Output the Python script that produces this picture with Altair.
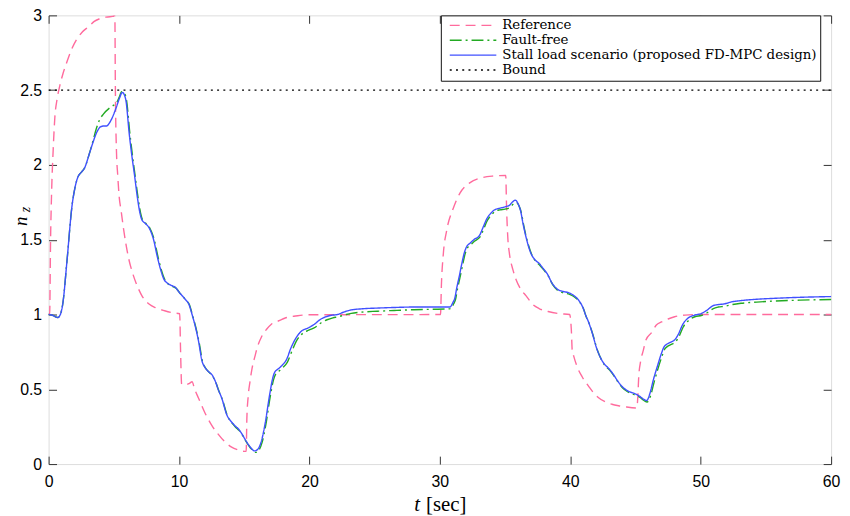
import altair as alt
import pandas as pd

# ---------------- data ----------------
ref_t = [0, 0.08, 0.15, 0.23, 0.35, 0.48, 0.65, 0.86, 1.1, 1.37, 1.7, 2.13, 2.6, 3.14, 3.5, 3.9, 4.4, 4.91, 5.08,
         5.12, 5.2, 5.3, 5.42, 5.55, 5.75, 5.93, 6.15, 6.43, 6.8, 7.19, 7.7, 8.21, 8.9, 9.5, 10.05,
         10.12, 10.2, 10.5, 10.8, 11.0, 11.2, 11.5, 12.0, 12.5, 13.0, 13.5, 14.0, 14.5, 15.05, 15.15,
         15.2, 15.3, 15.44, 15.6, 15.82, 16.0, 16.32, 16.7, 17.08, 17.72, 18.1, 19.1, 20.0, 30.05,
         30.12, 30.27, 30.52, 31.03, 31.53, 32.29, 33.3, 34.1, 35.05,
         35.12, 35.22, 35.33, 35.6, 35.84, 36.2, 36.6, 37.1, 37.61, 38.3, 39.13, 39.95,
         40.08, 40.15, 40.27, 40.53, 40.91, 41.41, 41.8, 42.17, 42.7, 43.19, 43.7, 44.2, 45.1,
         45.18, 45.25, 45.4, 45.6, 45.8, 46.24, 46.6, 47.0, 47.5, 48.0, 48.8, 50.0, 60.0]
ref_v = [1.0, 1.0, 1.5, 1.82, 2.1, 2.32, 2.44, 2.53, 2.61, 2.68, 2.76, 2.836, 2.89, 2.93, 2.96, 2.977, 2.988, 2.993, 2.995,
         2.5, 2.1, 1.93, 1.78, 1.70, 1.57, 1.47, 1.37, 1.28, 1.19, 1.12, 1.07, 1.045, 1.025, 1.012, 1.005,
         0.75, 0.535, 0.53, 0.54, 0.55, 0.50, 0.44, 0.34, 0.26, 0.20, 0.15, 0.115, 0.095, 0.085, 0.085,
         0.30, 0.45, 0.55, 0.64, 0.72, 0.78, 0.85, 0.90, 0.935, 0.96, 0.975, 0.992, 0.998, 1.0,
         1.2, 1.41, 1.56, 1.71, 1.81, 1.88, 1.916, 1.926, 1.93,
         1.7, 1.5, 1.41, 1.30, 1.234, 1.17, 1.126, 1.07, 1.04, 1.02, 1.006, 1.0,
         0.9, 0.76, 0.72, 0.65, 0.584, 0.52, 0.475, 0.444, 0.415, 0.40, 0.39, 0.383, 0.375,
         0.45, 0.584, 0.69, 0.76, 0.83, 0.88, 0.93, 0.95, 0.97, 0.985, 0.996, 1.0, 1.0]

ff_t = [0, 0.3, 0.7, 0.9, 1.1, 1.4, 1.8, 2.05, 2.25, 2.5, 2.76, 3.14, 3.4, 3.65, 3.9, 4.2, 4.66, 5.0, 5.17, 5.4,
        5.6, 5.8, 5.98, 6.22, 6.45, 6.6, 6.87, 7.05, 7.2, 7.45, 7.75, 8.13, 8.35, 8.64, 8.9, 9.15, 9.45, 9.78,
        10.05, 10.35, 10.55, 10.8, 11.05, 11.3, 11.55, 11.8, 12.05, 12.35, 12.55, 12.85, 13.05, 13.33, 13.7,
        14.1, 14.35, 14.6, 14.85, 15.15, 15.55, 15.85, 16.1, 16.37, 16.65, 17.0, 17.25, 17.4, 17.65, 17.95,
        18.3, 18.7, 19.05, 19.5, 19.95, 20.45, 20.9, 21.35, 21.8, 22.2, 22.7, 23.2, 24.0, 25.2, 26.5, 28.0,
        29.5, 30.5, 30.85, 31.05, 31.2, 31.35, 31.55, 31.72, 31.95, 32.15, 32.35, 32.65, 33.1, 33.35, 33.65,
        34.0, 34.25, 34.6, 35.0, 35.35, 35.65, 35.85, 36.05, 36.25, 36.4, 36.65, 37.05, 37.35, 37.66, 37.95,
        38.3, 38.65, 39.05, 39.45, 39.95, 40.35, 40.7, 41.05, 41.2, 41.45, 41.72, 42.05, 42.35, 42.65, 43.0,
        43.35, 43.65, 44.0, 44.45, 45.0, 45.35, 45.65, 45.9, 46.15, 46.42, 46.75, 47.05, 47.25, 47.43, 47.75,
        48.05, 48.35, 48.65, 49.07, 49.55, 50.1, 50.55, 50.97, 51.35, 51.85, 52.45, 53.1, 54.3, 55.6, 57.64, 60.0]
ff_v = [1.0, 0.995, 0.98, 1.0, 1.08, 1.35, 1.73, 1.86, 1.92, 1.95, 1.98, 2.08, 2.16, 2.24, 2.30, 2.34, 2.38, 2.40, 2.41, 2.45,
        2.49, 2.48, 2.43, 2.22, 2.05, 1.95, 1.775, 1.68, 1.634, 1.61, 1.58, 1.49, 1.40, 1.30, 1.235, 1.205, 1.19, 1.175,
        1.145, 1.115, 1.095, 1.065, 0.99, 0.91, 0.81, 0.685, 0.64, 0.61, 0.59, 0.54, 0.49, 0.43, 0.325,
        0.27, 0.245, 0.225, 0.195, 0.15, 0.10, 0.078, 0.09, 0.145, 0.26, 0.455, 0.565, 0.60, 0.62, 0.645,
        0.68, 0.765, 0.83, 0.875, 0.895, 0.915, 0.945, 0.965, 0.978, 0.985, 0.997, 1.008, 1.016, 1.022, 1.027, 1.032,
        1.035, 1.037, 1.04, 1.07, 1.10, 1.17, 1.25, 1.32, 1.41, 1.45, 1.465, 1.49, 1.52, 1.57, 1.63,
        1.67, 1.69, 1.70, 1.705, 1.715, 1.74, 1.75, 1.73, 1.68, 1.61, 1.51, 1.40, 1.355, 1.33, 1.30,
        1.26, 1.20, 1.16, 1.145, 1.135, 1.115, 1.085, 1.03, 0.99, 0.94, 0.87, 0.77, 0.705, 0.66, 0.63,
        0.59, 0.55, 0.51, 0.48, 0.46, 0.445, 0.425, 0.415, 0.455, 0.545, 0.645, 0.725, 0.77, 0.785, 0.80,
        0.815, 0.855, 0.915, 0.96, 0.985, 0.995, 1.015, 1.04, 1.05, 1.055, 1.067, 1.075, 1.083, 1.09, 1.096, 1.10]

stall_t = [0, 0.3, 0.7, 0.9, 1.1, 1.4, 1.8, 2.05, 2.25, 2.5, 2.76, 3.14, 3.4, 3.65, 3.98, 4.2, 4.41, 4.79, 5.17, 5.45,
           5.65, 5.8, 5.93, 6.18, 6.4, 6.56, 6.82, 7.0, 7.15, 7.4, 7.7, 8.08, 8.3, 8.59, 8.85, 9.1, 9.4, 9.73,
           10.0, 10.3, 10.49, 10.75, 11.0, 11.25, 11.5, 11.76, 12.0, 12.3, 12.5, 12.8, 13.0, 13.28, 13.66,
           14.04, 14.3, 14.55, 14.8, 15.1, 15.5, 15.8, 16.05, 16.32, 16.6, 16.96, 17.2, 17.34, 17.59, 17.9,
           18.22, 18.6, 18.98, 19.4, 19.87, 20.38, 20.8, 21.26, 21.7, 22.15, 22.6, 23.16, 24.0, 25.2, 26.5, 28.0,
           29.5, 30.5, 30.77, 31.0, 31.15, 31.3, 31.5, 31.66, 31.9, 32.1, 32.29, 32.6, 33.05, 33.3, 33.6,
           33.94, 34.2, 34.57, 35.0, 35.33, 35.6, 35.79, 36.0, 36.2, 36.35, 36.6, 36.98, 37.3, 37.61, 37.9,
           38.25, 38.6, 39.0, 39.4, 39.9, 40.3, 40.65, 41.0, 41.16, 41.4, 41.67, 42.0, 42.3, 42.6, 42.94,
           43.3, 43.6, 43.95, 44.4, 44.97, 45.3, 45.6, 45.86, 46.1, 46.36, 46.7, 46.99, 47.2, 47.38, 47.7,
           48.0, 48.3, 48.6, 49.02, 49.5, 50.04, 50.5, 50.92, 51.3, 51.81, 52.4, 53.08, 54.3, 55.6, 57.64, 60.0]
stall_v = [1.0, 0.995, 0.98, 1.0, 1.08, 1.35, 1.73, 1.86, 1.92, 1.95, 1.98, 2.08, 2.15, 2.21, 2.255, 2.26, 2.26, 2.30, 2.38, 2.45,
           2.485, 2.47, 2.43, 2.21, 2.05, 1.95, 1.775, 1.68, 1.634, 1.61, 1.58, 1.49, 1.40, 1.30, 1.235, 1.21, 1.195, 1.18,
           1.15, 1.12, 1.10, 1.07, 1.0, 0.92, 0.82, 0.69, 0.645, 0.615, 0.60, 0.55, 0.50, 0.44, 0.33,
           0.28, 0.255, 0.235, 0.205, 0.16, 0.11, 0.088, 0.10, 0.155, 0.27, 0.47, 0.58, 0.615, 0.635, 0.66,
           0.695, 0.78, 0.845, 0.89, 0.909, 0.935, 0.965, 0.985, 0.995, 1.0, 1.015, 1.03, 1.038, 1.043, 1.047, 1.05,
           1.05, 1.05, 1.05, 1.08, 1.11, 1.18, 1.26, 1.33, 1.42, 1.46, 1.475, 1.50, 1.53, 1.58, 1.64,
           1.68, 1.70, 1.71, 1.72, 1.73, 1.755, 1.764, 1.74, 1.69, 1.62, 1.52, 1.41, 1.365, 1.342, 1.31,
           1.27, 1.21, 1.17, 1.155, 1.145, 1.125, 1.095, 1.04, 1.0, 0.95, 0.88, 0.78, 0.714, 0.67, 0.64,
           0.60, 0.56, 0.52, 0.49, 0.47, 0.455, 0.435, 0.425, 0.47, 0.56, 0.66, 0.74, 0.785, 0.80, 0.815,
           0.83, 0.87, 0.93, 0.975, 0.995, 1.006, 1.03, 1.058, 1.066, 1.071, 1.085, 1.093, 1.102, 1.108, 1.115, 1.12]

bound_t = [0, 60]
bound_v = [2.5, 2.5]

series_names = ["Reference", "Fault-free", "Stall load scenario (proposed FD-MPC design)", "Bound"]
series_colors = ["#ff6b9d", "#22aa22", "#4050ff", "#000000"]
series_dashes = [[10, 6], [12, 4, 2, 4], [1, 0], [2, 4.3]]
series_widths = [1.4, 1.4, 1.5, 2.2]

x_ticks = [0, 10, 20, 30, 40, 50, 60]
y_ticks = [0, 0.5, 1, 1.5, 2, 2.5, 3]

# ---------------- build table ----------------
rows = []
for name, ts, vs in zip(series_names, [ref_t, ff_t, stall_t, bound_t], [ref_v, ff_v, stall_v, bound_v]):
    for i, (t, v) in enumerate(zip(ts, vs)):
        rows.append({"series": name, "t": t, "v": v, "i": i})
df = pd.DataFrame(rows)
bound_df = pd.DataFrame({"t": bound_t, "v": bound_v})

W, H = 790, 453
xscale = alt.Scale(domain=[0, 60], nice=False, zero=False)
yscale = alt.Scale(domain=[0, 3], nice=False, zero=False)

lab_font = "Liberation Sans"
serif = "Liberation Serif"
leg_font = "DejaVu Serif"

leg = alt.Legend(title=None, orient="none", legendX=396, legendY=0,
                 symbolType="stroke", symbolSize=2209, symbolStrokeWidth=1.4, symbolOffset=5,
                 labelFont=leg_font, labelFontSize=13.5, labelColor="black", labelOffset=5,
                 strokeColor="#111111", fillColor="white", padding=3, rowPadding=0,
                 clipHeight=14.3, cornerRadius=0, labelLimit=0)

lines = alt.Chart(df).mark_line(interpolate="monotone").encode(
    x=alt.X("t:Q", scale=xscale,
            axis=alt.Axis(orient="bottom", values=x_ticks, format="d", offset=-8, tickSize=8,
                          domain=False, grid=False, labelPadding=10, labelFont=lab_font,
                          labelFontSize=16, labelColor="black", tickColor="#333333",
                          labelFlush=False, title=None)),
    y=alt.Y("v:Q", scale=yscale,
            axis=alt.Axis(orient="left", values=y_ticks, format="~r", offset=-8, tickSize=8,
                          domain=False, grid=False, labelPadding=7, labelFont=lab_font,
                          labelFontSize=16, labelColor="black", tickColor="#333333",
                          labelFlush=False, title=None)),
    color=alt.Color("series:N", scale=alt.Scale(domain=series_names, range=series_colors), legend=leg),
    strokeDash=alt.StrokeDash("series:N", scale=alt.Scale(domain=series_names, range=series_dashes), legend=leg),
    strokeWidth=alt.StrokeWidth("series:N", scale=alt.Scale(domain=series_names, range=series_widths), legend=None),
    order=alt.Order("i:Q"),
)

mirror = alt.Chart(bound_df).mark_line(opacity=0).encode(
    x=alt.X("t:Q", scale=xscale,
            axis=alt.Axis(orient="top", values=x_ticks, offset=-8, tickSize=8, domain=False,
                          grid=False, labels=False, tickColor="#333333", title=None)),
    y=alt.Y("v:Q", scale=yscale,
            axis=alt.Axis(orient="right", values=y_ticks, offset=-8, tickSize=8, domain=False,
                          grid=False, labels=False, tickColor="#333333", title=None)),
)

one = pd.DataFrame({"k": [0]})
t_txt = alt.Chart(one).mark_text(font=serif, fontStyle="italic", fontSize=21, align="center",
                                 baseline="alphabetic", color="black").encode(
    x=alt.value(372), y=alt.value(500), text=alt.value("t"))
sec_txt = alt.Chart(one).mark_text(font=serif, fontSize=21, align="left",
                                   baseline="alphabetic", color="black").encode(
    x=alt.value(381), y=alt.value(500), text=alt.value("[sec]"))
n_txt = alt.Chart(one).mark_text(font=serif, fontStyle="italic", fontSize=19, align="center",
                                 baseline="middle", angle=270, color="black").encode(
    x=alt.value(-28), y=alt.value(208), text=alt.value("n"))
z_txt = alt.Chart(one).mark_text(font=serif, fontStyle="italic", fontSize=14, align="center",
                                 baseline="middle", angle=270, color="black").encode(
    x=alt.value(-23), y=alt.value(196), text=alt.value("z"))

chart = alt.layer(lines, mirror, t_txt, sec_txt, n_txt, z_txt).resolve_axis(
    x="independent", y="independent"
).properties(
    width=W, height=H,
    padding={"left": 41, "top": 5, "right": 11, "bottom": 52},
    autosize=alt.AutoSizeParams(type="none"),
).configure_view(
    stroke="#222222", strokeWidth=1.3
).configure(background="white")

chart.save("out.html", embed_options={"renderer": "svg", "actions": False})
